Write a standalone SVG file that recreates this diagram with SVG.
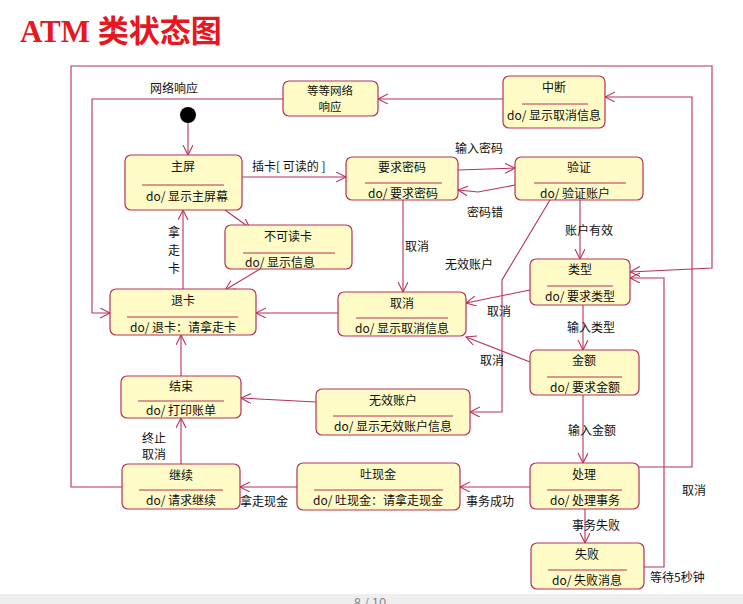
<svg xmlns="http://www.w3.org/2000/svg" width="743" height="604" viewBox="0 0 743 604">
<style>
.n rect{fill:#fefbc6;stroke:#b8305a;stroke-width:1.2}
.n line{stroke:#b8305a;stroke-width:1}
text{font-family:"Noto Sans CJK SC","Liberation Sans",sans-serif;font-size:12px;fill:#111}
.c{text-anchor:middle}
#edges path{fill:none;stroke:#b8305a;stroke-width:1.1}
</style>
<defs><marker id="a" markerWidth="12" markerHeight="12" refX="10" refY="5" orient="auto" markerUnits="userSpaceOnUse"><path d="M0,0 L10,5 L0,10" fill="none" stroke="#b8305a" stroke-width="1.1"/></marker></defs>
<rect width="743" height="604" fill="#fff"/>
<text x="20" y="42" style="font-family:'Liberation Serif','Noto Sans CJK SC',serif;font-size:31px;fill:#e8161e;font-weight:bold">ATM 类状态图</text>
<rect x="0" y="594" width="743" height="10" fill="#eeeeee"/>
<text x="370" y="608" class="c" style="fill:#888;font-size:13px">8 / 10</text>
<g id="edges" marker-end="url(#a)">
<path d="M122,487 H71 V66 H712 V268 L630,272"/>
<path d="M639,467 H692 V97 H605"/>
<path d="M644,567 H664 V278 H630"/>
<path d="M283,99 H92 V313 H110"/>
<path d="M188,123 V155"/>
<path d="M503,99 H378"/>
<path d="M242,177 H346"/>
<path d="M458,170 L515,168"/>
<path d="M515,185 L478,192 L458,190"/>
<path d="M225,210 L250,228"/>
<path d="M260,269 L225,290"/>
<path d="M183,289 V210"/>
<path d="M403,200 V292"/>
<path d="M550,200 L502,280 V412 H470"/>
<path d="M580,200 V259"/>
<path d="M530,290 L466,303"/>
<path d="M338,313 H256"/>
<path d="M583,305 V350"/>
<path d="M530,362 L466,337"/>
<path d="M583,395 V463"/>
<path d="M316,402 L241,398"/>
<path d="M181,376 V335"/>
<path d="M181,464 V418"/>
<path d="M297,487 H240"/>
<path d="M530,487 H460"/>
<path d="M585,509 V543"/>
</g>
<g id="labels">
<text x="150" y="93">网络响应</text>
<text x="252" y="171">插卡[ 可读的 ]</text>
<text x="455" y="153">输入密码</text>
<text x="467" y="217">密码错</text>
<text x="168" y="237">拿</text><text x="168" y="255">走</text><text x="168" y="273">卡</text>
<text x="405" y="251">取消</text>
<text x="445" y="269">无效账户</text>
<text x="565" y="235">账户有效</text>
<text x="487" y="316">取消</text>
<text x="567" y="332">输入类型</text>
<text x="480" y="365">取消</text>
<text x="568" y="435">输入金额</text>
<text x="142" y="443">终止</text><text x="142" y="459">取消</text>
<text x="240" y="506">拿走现金</text>
<text x="466" y="506">事务成功</text>
<text x="572" y="530">事务失败</text>
<text x="682" y="495">取消</text>
<text x="650" y="582">等待5秒钟</text>
</g>
<circle cx="188" cy="115" r="8" fill="#000"/>
<g id="wait" class="n"><rect x="283" y="81" width="95" height="35" rx="6"/><text x="330" y="95" class="c" style="font-size:11.5px">等等网络</text><text x="330" y="111" class="c" style="font-size:11.5px">响应</text></g>
<g id="interrupt" class="n"><rect x="503" y="76" width="102" height="52" rx="6"/><text x="554" y="92" class="c">中断</text><line x1="522" y1="104" x2="588" y2="104"/><text x="554" y="120" class="c">do/ 显示取消信息</text></g>
<g id="main" class="n"><rect x="125" y="155" width="117" height="55" rx="6"/><text x="183" y="171" class="c">主屏</text><line x1="142" y1="185" x2="224" y2="185"/><text x="187" y="201" class="c">do/ 显示主屏幕</text></g>
<g id="pin" class="n"><rect x="346" y="157" width="112" height="43" rx="6"/><text x="402" y="172" class="c">要求密码</text><line x1="365" y1="183" x2="442" y2="183"/><text x="403" y="198" class="c">do/ 要求密码</text></g>
<g id="verify" class="n"><rect x="515" y="157" width="128" height="43" rx="6"/><text x="579" y="172" class="c">验证</text><line x1="534" y1="183" x2="626" y2="183"/><text x="575" y="198" class="c">do/ 验证账户</text></g>
<g id="unread" class="n"><rect x="225" y="225" width="127" height="44" rx="6"/><text x="288" y="241" class="c">不可读卡</text><line x1="243" y1="253" x2="335" y2="253"/><text x="280" y="267" class="c">do/ 显示信息</text></g>
<g id="type" class="n"><rect x="530" y="259" width="100" height="46" rx="6"/><text x="580" y="274" class="c">类型</text><line x1="547" y1="286" x2="613" y2="286"/><text x="580" y="301" class="c">do/ 要求类型</text></g>
<g id="eject" class="n"><rect x="110" y="289" width="146" height="46" rx="6"/><text x="183" y="305" class="c">退卡</text><line x1="127" y1="317" x2="238" y2="317"/><text x="183" y="332" class="c">do/ 退卡：请拿走卡</text></g>
<g id="cancel" class="n"><rect x="338" y="292" width="128" height="44" rx="6"/><text x="402" y="308" class="c">取消</text><line x1="356" y1="318" x2="448" y2="318"/><text x="402" y="333" class="c">do/ 显示取消信息</text></g>
<g id="amount" class="n"><rect x="530" y="350" width="109" height="45" rx="6"/><text x="584" y="365" class="c">金额</text><line x1="547" y1="377" x2="622" y2="377"/><text x="585" y="392" class="c">do/ 要求金额</text></g>
<g id="end" class="n"><rect x="121" y="376" width="120" height="42" rx="6"/><text x="181" y="391" class="c">结束</text><line x1="138" y1="401" x2="224" y2="401"/><text x="181" y="415" class="c">do/ 打印账单</text></g>
<g id="invalid" class="n"><rect x="316" y="389" width="154" height="46" rx="6"/><text x="393" y="405" class="c">无效账户</text><line x1="333" y1="416" x2="453" y2="416"/><text x="393" y="431" class="c">do/ 显示无效账户信息</text></g>
<g id="cont" class="n"><rect x="122" y="464" width="118" height="45" rx="6"/><text x="181" y="480" class="c">继续</text><line x1="139" y1="490" x2="223" y2="490"/><text x="181" y="505" class="c">do/ 请求继续</text></g>
<g id="cash" class="n"><rect x="297" y="463" width="163" height="47" rx="6"/><text x="378" y="479" class="c">吐现金</text><line x1="314" y1="490" x2="443" y2="490"/><text x="378" y="505" class="c">do/ 吐现金：请拿走现金</text></g>
<g id="proc" class="n"><rect x="530" y="463" width="109" height="46" rx="6"/><text x="584" y="479" class="c">处理</text><line x1="547" y1="490" x2="622" y2="490"/><text x="585" y="505" class="c">do/ 处理事务</text></g>
<g id="fail" class="n"><rect x="531" y="543" width="113" height="46" rx="6"/><text x="587" y="559" class="c">失败</text><line x1="548" y1="570" x2="627" y2="570"/><text x="587" y="585" class="c">do/ 失败消息</text></g>
</svg>
